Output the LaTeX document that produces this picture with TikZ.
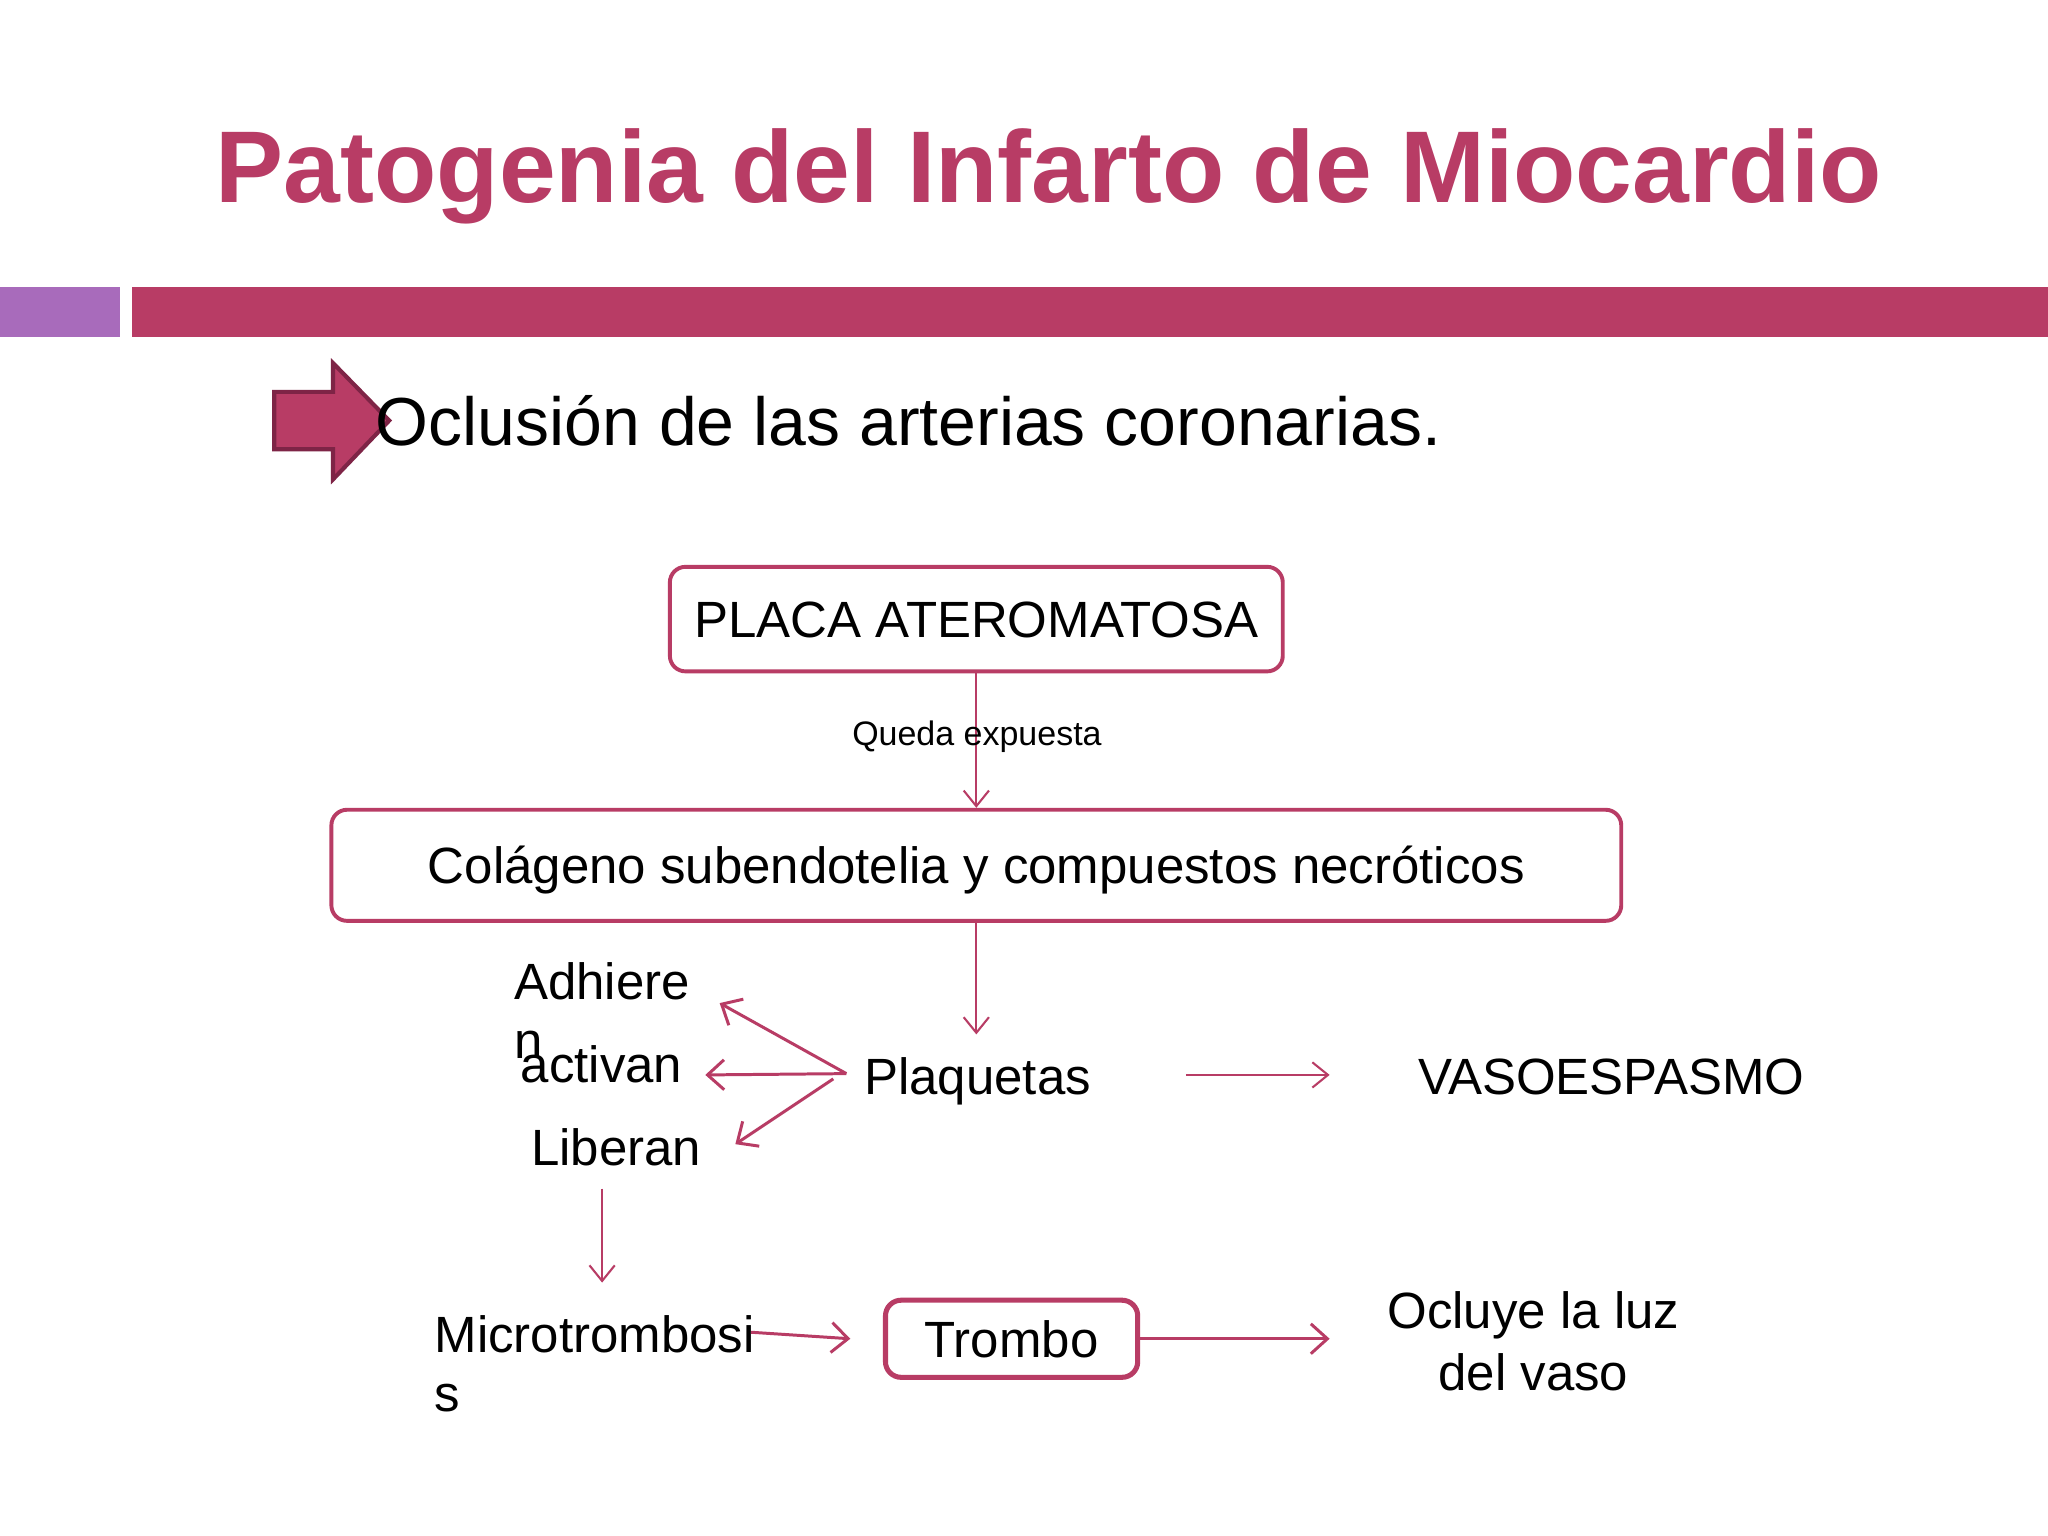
\documentclass[tikz,border=0pt]{standalone}
\usepackage{fontspec}
\setmainfont{Liberation Sans}
\usetikzlibrary{arrows.meta}
\definecolor{rose}{HTML}{B83C65}
\definecolor{lilac}{HTML}{A86BBB}
\definecolor{roseedge}{HTML}{7E2446}
\tikzset{
  box/.style={draw=rose, line width=0.85pt, rounded corners=3.4pt, inner sep=0pt,
    text height=0.8em, text depth=0pt, font=\fontsize{11.1}{12.8}\selectfont},
  lbl/.style={inner sep=0pt, font=\fontsize{11.1}{12.8}\selectfont},
  conn/.style={draw=rose, line width=0.45pt, -{Straight Barb[length=3.4pt,width=5.5pt]}},
  fanconn/.style={draw=rose, line width=0.65pt, -{Straight Barb[length=3.6pt,width=6.5pt]}},
}
\begin{document}
\begin{tikzpicture}[x=0.01cm, y=-0.01cm]
\path[use as bounding box] (0,0) rectangle (1568,1176);
\fill[white] (0,0) rectangle (1568,1176);

% title and bars
\node[anchor=base, inner sep=0pt, text=rose, font=\bfseries\fontsize{22.2}{26}\selectfont] (title) at (803,155) {Patogenia del Infarto de Miocardio};
\fill[lilac] (0,220) rectangle (92,258);
\fill[rose] (101,220) rectangle (1568,258);

% bullet arrow
\filldraw[fill=rose, draw=roseedge, line width=0.9pt, line join=miter]
  (210,300) -- (255,300) -- (255,278) -- (298,322) -- (255,367) -- (255,344) -- (210,344) -- cycle;
\node[anchor=base west, inner sep=0pt, font=\fontsize{14.8}{18}\selectfont] (ocl) at (287,341) {Oclusión de las arterias coronarias.};

% boxes
\node[box, minimum width=4.69cm, minimum height=0.80cm] (placa) at (747.5,474) {PLACA ATEROMATOSA};
\node[box, minimum width=9.87cm, minimum height=0.85cm] (colag) at (747.5,662.5) {Colágeno subendotelia y compuestos necróticos};
\node[box, line width=1.1pt, minimum width=1.93cm, minimum height=0.59cm] (trombo) at (774.5,1025) {Trombo};

% labels
\node[lbl, anchor=base west] (plaq) at (661,838) {Plaquetas};
\node[lbl, anchor=base west] (vaso) at (1085,838) {VASOESPASMO};
\node[lbl, anchor=north west, align=left] (adh) at (393,736.5) {Adhiere\\n};
\node[lbl, anchor=base west] (act) at (398,829) {activan};
\node[lbl, anchor=base west] (lib) at (406,892) {Liberan};
\node[lbl, anchor=north west, align=left] (micro) at (332,1006.5) {Microtrombosi\\s};
\node[lbl, anchor=north, align=center, font=\fontsize{11.1}{13.6}\selectfont] (ocluye) at (1174,988) {Ocluye la luz\\del vaso};

% connectors
\draw[conn] (placa.south) -- (colag.north);
\node[inner sep=0pt, font=\fontsize{7.4}{9}\selectfont] (queda) at (748,564) {Queda expuesta};
\coordinate (plaqT) at (747.5,792);
\draw[conn] (colag.south) -- (plaqT);

\coordinate (fan) at (648,822);
\coordinate (fanL) at (638,826);
\coordinate (adhT) at (551,768);
\coordinate (actT) at (540,823);
\coordinate (libT) at (563,876);
\draw[fanconn] (fan) -- (adhT);
\draw[fanconn] (fan) -- (actT);
\draw[fanconn] (fanL) -- (libT);

\coordinate (vasoS) at (908,823);
\coordinate (vasoE) at (1018,823);
\draw[conn] (vasoS) -- (vasoE);

\coordinate (libS) at (461,910);
\coordinate (microE) at (461,982);
\draw[conn] (libS) -- (microE);

\coordinate (microS) at (575,1020);
\coordinate (trE) at (651,1025);
\draw[fanconn] (microS) -- (trE);

\coordinate (ocluyeE) at (1018,1025);
\draw[fanconn] (trombo.east) -- (ocluyeE);
\end{tikzpicture}
\end{document}
